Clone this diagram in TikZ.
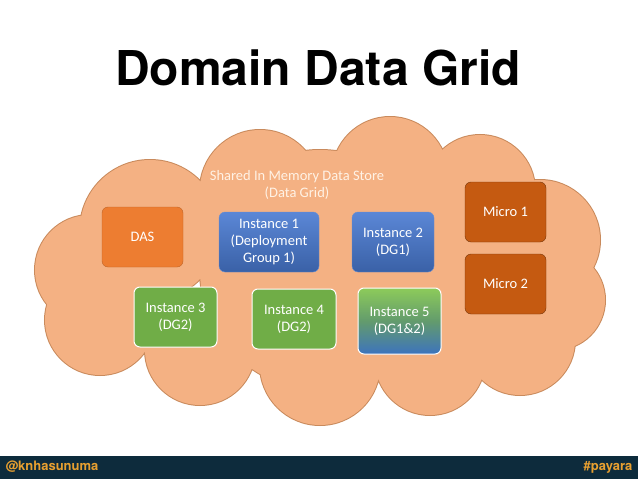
\documentclass[tikz,border=0pt]{standalone}
\usepackage{fontspec}
\setmainfont{Carlito}
\newfontfamily\helv{TeX Gyre Heros}
\definecolor{cloudfill}{HTML}{F4B183}
\definecolor{clouddraw}{HTML}{C98A5C}
\definecolor{dasc}{HTML}{ED7D31}
\definecolor{bluec}{HTML}{4472C4}
\definecolor{bluel}{HTML}{5B87D6}
\definecolor{microc}{HTML}{C55A11}
\definecolor{greenc}{HTML}{70AD47}
\definecolor{greenl}{HTML}{8DCB5A}
\definecolor{barc}{HTML}{0D2B3C}
\definecolor{barText}{HTML}{E8A030}
\begin{document}
\begin{tikzpicture}[x=1pt,y=-1pt,
 box/.style={rounded corners=6pt,align=center,text=white,font=\fontsize{14.5}{17}\selectfont,inner sep=1pt},
 ]
\useasboundingbox (0,0) rectangle (638,479);
\fill[white] (0,0) rectangle (638,479);
\node[font=\helv\bfseries\fontsize{48}{52}\selectfont] (title) at (318,68) {Domain Data Grid};
% cloud
\def\cloudcircles#1{%
 \path[#1] (150,230) circle (70) (260,190) circle (60) (390,175) circle (58)
  (480,190) circle (55) (540,240) circle (60) (555,300) circle (50)
  (520,340) circle (55) (430,360) circle (55) (320,365) circle (60)
  (200,350) circle (55) (100,320) circle (55) (90,270) circle (55)
  (320,270) circle (120) (420,260) circle (100);}
\cloudcircles{draw=clouddraw,line width=2pt}
\cloudcircles{fill=cloudfill}
\node[align=center,text=white!90!orange,font=\fontsize{14.5}{17}\selectfont] (lbl) at (297,185) {Shared In Memory Data Store\\(Data Grid)};
\node[box,fill=dasc,draw=dasc!80!black,minimum width=81pt,minimum height=60pt] (das) at (142.5,237) {DAS};
\node[box,top color=bluel,bottom color=bluec!85!black,draw=bluec!80!white,minimum width=100pt,minimum height=60pt] (i1) at (269,242) {Instance 1\\(Deployment\\Group 1)};
\node[box,top color=bluel,bottom color=bluec!85!black,draw=bluec!80!white,minimum width=82pt,minimum height=60pt] (i2) at (393,242) {Instance 2\\(DG1)};
\node[box,fill=microc,draw=microc!60!black,minimum width=81pt,minimum height=60pt] (m1) at (505.5,212) {Micro 1};
\node[box,fill=microc,draw=microc!60!black,minimum width=81pt,minimum height=60pt] (m2) at (505.5,284) {Micro 2};
\node[box,fill=greenc,draw=white,line width=1pt,minimum width=83pt,minimum height=60pt] (i3) at (175.5,317) {Instance 3\\(DG2)};
\node[box,fill=greenc,draw=white,line width=1pt,minimum width=84pt,minimum height=60pt] (i4) at (294,319) {Instance 4\\(DG2)};
\node[box,top color=greenl,bottom color=bluec!90!teal,middle color=greenc!70!bluec,draw=white,line width=1pt,minimum width=83pt,minimum height=66pt] (i5) at (399.5,321) {Instance 5\\(DG1\&2)};
% bottom bar
\fill[barc] (0,456) rectangle (638,479);
\node[anchor=west,text=barText,font=\helv\bfseries\fontsize{13}{15}\selectfont] (h1) at (2,467) {@knhasunuma};
\node[anchor=east,text=barText,font=\helv\bfseries\fontsize{13}{15}\selectfont] (h2) at (636,467) {\#payara};
\end{tikzpicture}
\end{document}
